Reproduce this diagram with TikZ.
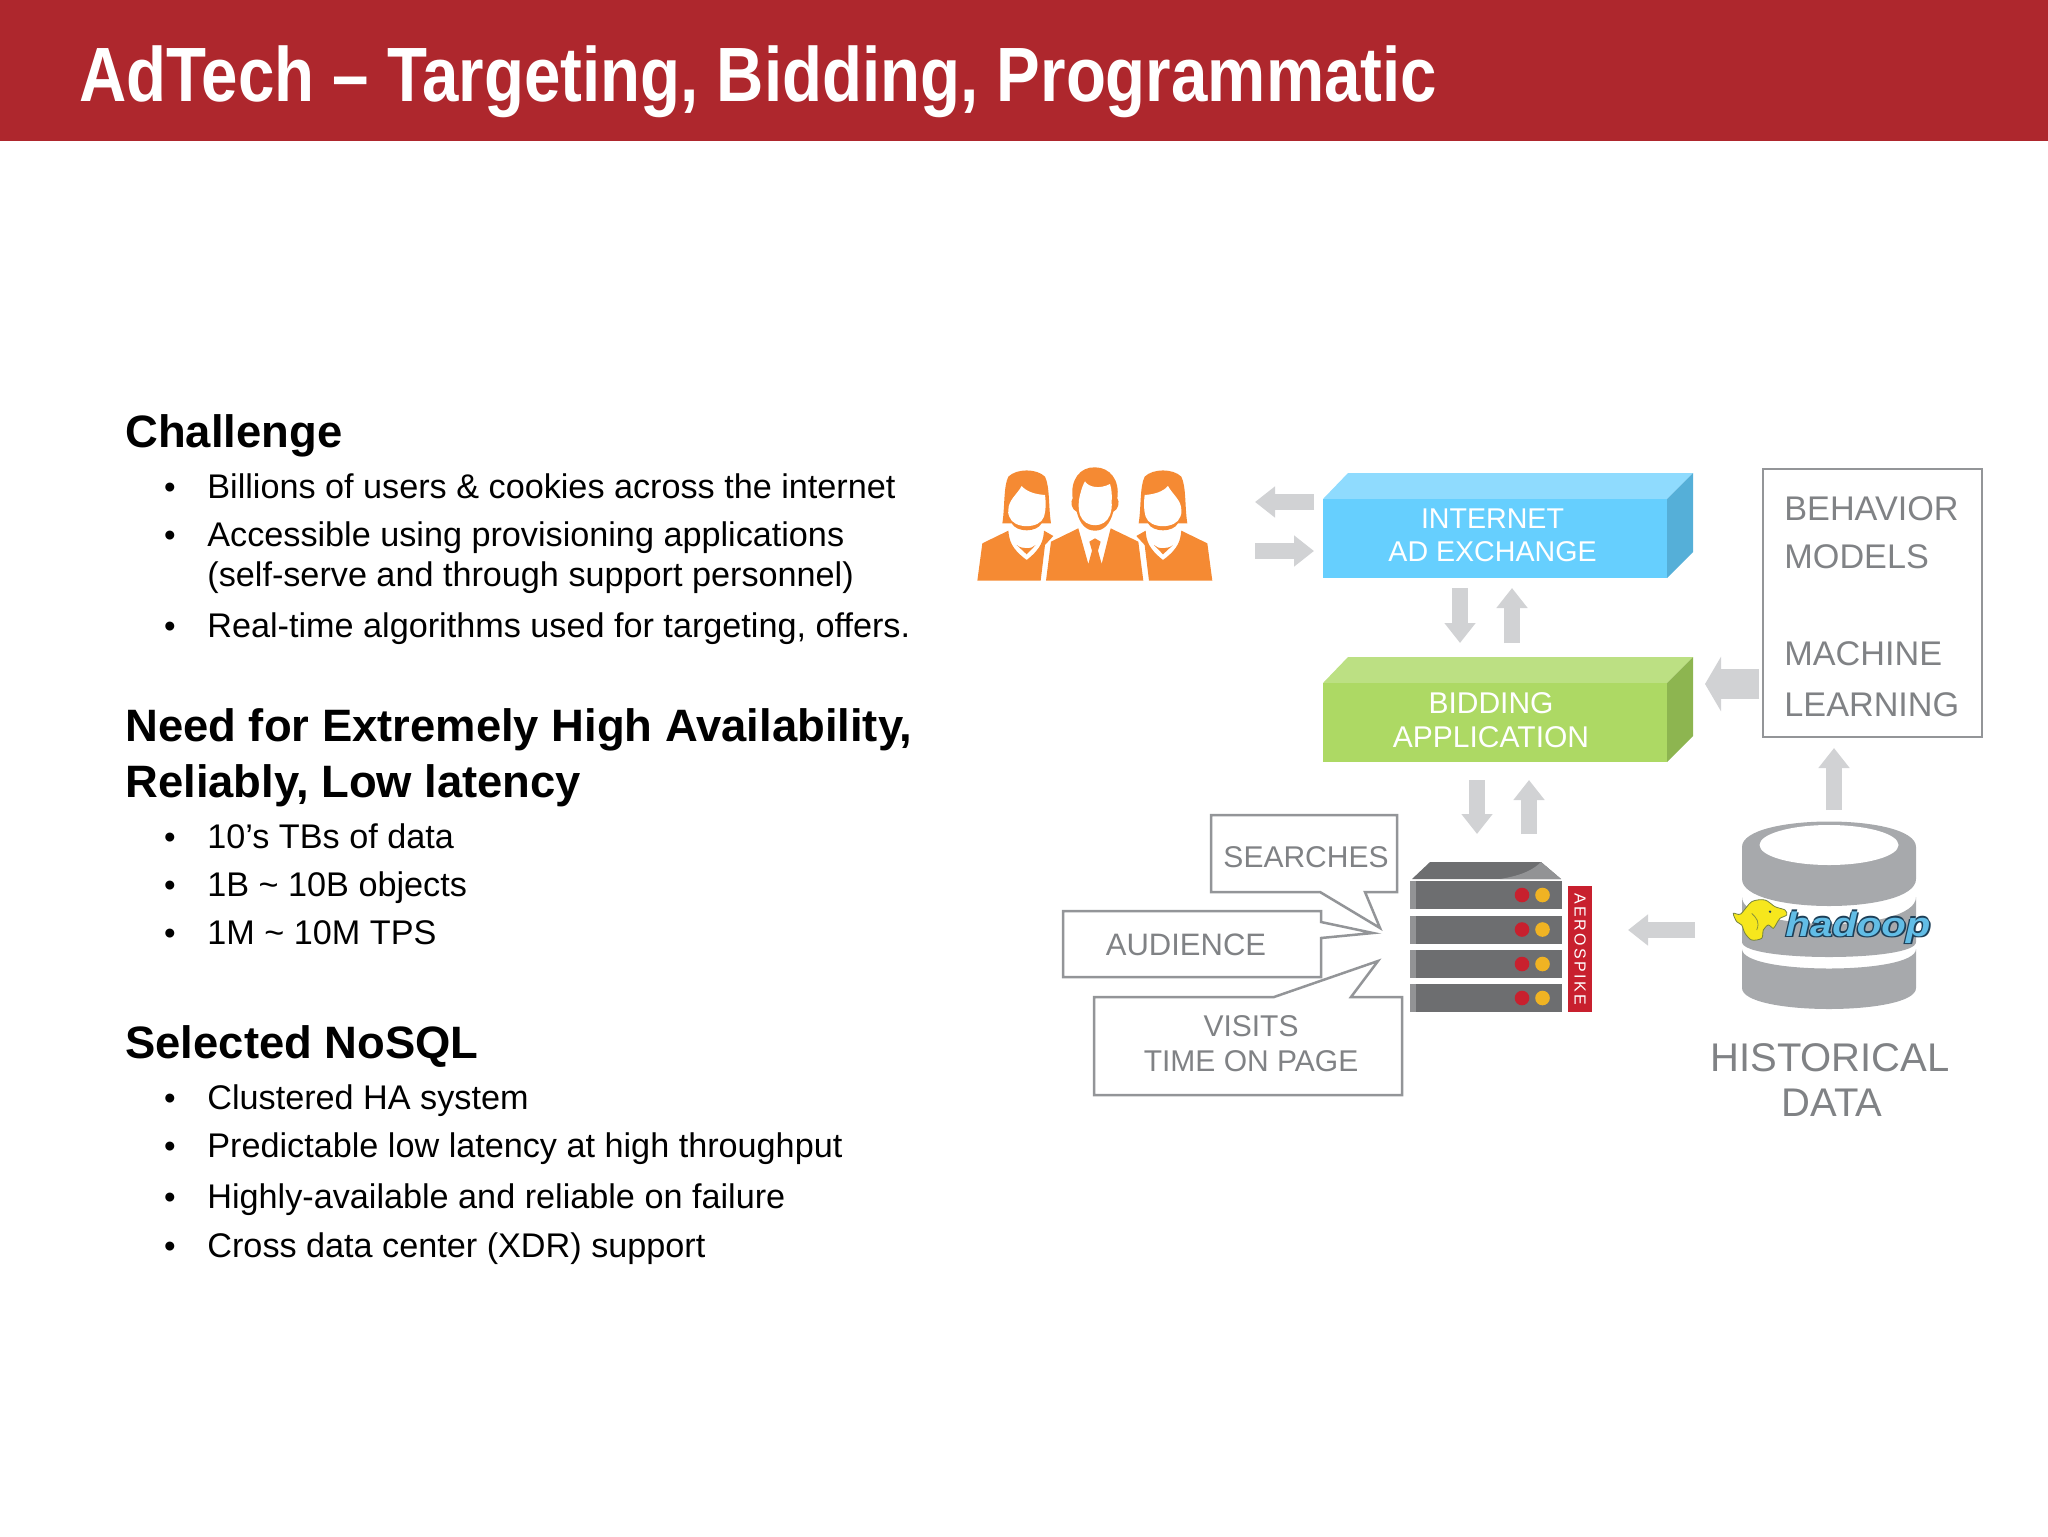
\documentclass[tikz,border=0pt]{standalone}
\usepackage{fontspec}
\setmainfont{Liberation Sans}
\usetikzlibrary{arrows.meta}
\definecolor{bandred}{HTML}{AE272D}
\definecolor{blockgray}{HTML}{D1D2D4}
\definecolor{labelgray}{HTML}{808285}
\definecolor{framegray}{HTML}{939598}
\definecolor{blueF}{HTML}{66CFFE}
\definecolor{blueT}{HTML}{8FDBFE}
\definecolor{blueS}{HTML}{55AFD8}
\definecolor{greenF}{HTML}{ADD964}
\definecolor{greenT}{HTML}{BCE083}
\definecolor{greenS}{HTML}{8DB550}
\definecolor{srv}{HTML}{6D6E70}
\definecolor{srvL}{HTML}{929395}
\definecolor{cyl}{HTML}{A7A9AC}
\definecolor{peach}{HTML}{F58A33}
\definecolor{aero}{HTML}{C8202E}
\definecolor{amber}{HTML}{F0B323}
\definecolor{hadblue}{HTML}{62BDE6}
\definecolor{haddark}{HTML}{1D3F57}
\definecolor{hadyel}{HTML}{F6E71D}
\newcommand{\fs}[1]{\fontsize{#1}{#1}\selectfont}
\newcommand{\hadooptxt}{\bfseries\itshape\fs{17}\rlap{\kern-.6pt\raisebox{-.8pt}{\color{haddark}hadoop}}\rlap{\kern.7pt\raisebox{-.8pt}{\color{haddark}hadoop}}\rlap{\raisebox{.6pt}{\color{haddark}hadoop}}{\color{hadblue}hadoop}}
\newcommand{\womanfig}{%
  \fill[peach] (97,190) .. controls (105,140) and (100,80) .. (115,50) .. controls (140,25) and (200,25) .. (225,50) .. controls (240,80) and (235,140) .. (243,190) -- (215,190) .. controls (200,218) and (140,218) .. (125,190) -- cycle;
  \fill[white] (115,150) .. controls (115,120) and (140,105) .. (155,78) .. controls (170,95) and (195,103) .. (225,105) .. controls (228,130) and (228,150) .. (222,170) .. controls (210,208) and (130,208) .. (118,170) .. controls (114,160) and (114,155) .. (115,150) -- cycle;
  \fill[peach] (22,362) -- (37,250) -- (115,212) .. controls (118,240) and (122,265) .. (170,300) .. controls (215,265) and (220,240) .. (222,212) -- (250,228) -- (225,255) -- (212,362) -- cycle;
  \fill[peach] (140,255) .. controls (155,268) and (185,268) .. (197,255) -- (170,283) -- cycle;
}
\tikzset{
  x=0.5pt,y=-0.5pt,
  block/.style={-{Triangle[length=10pt,width=15pt]},blockgray,line width=8pt},
  wideblock/.style={-{Triangle[length=8pt,width=27pt]},blockgray,line width=15pt},
  head/.style={anchor=base west,font=\bfseries\fs{22.7},text=black,inner sep=0pt},
  item/.style={anchor=base west,font=\fs{17.1},text=black,inner sep=0pt},
  bull/.style={anchor=base,font=\fs{16.5},text=black,inner sep=0pt},
  boxshape/.style={inner sep=0pt,minimum width=172pt,minimum height=39.5pt},
  boxlabel/.style={text=white,align=center,inner sep=0pt},
  graylabel/.style={anchor=base west,font=\fs{17.1},text=labelgray,inner sep=0pt},
  callout/.style={draw=framegray,line width=1.25pt,fill=white},
  calltext/.style={anchor=base,font=\fs{15},text=labelgray,inner sep=0pt},
  rack/.style={fill=srv,minimum width=76pt,minimum height=14pt,inner sep=0pt},
}
\begin{document}
\begin{tikzpicture}
\useasboundingbox (0,0) rectangle (2048,1536);
\fill[bandred] (0,0) rectangle (2048,141);
\node[anchor=base west,font=\bfseries\fs{38.5},text=white,inner sep=0pt,xscale=0.85] (title) at (79,102) {AdTech – Targeting, Bidding, Programmatic};

% left text
\node[head] (h1) at (125,447) {Challenge};
\node[bull] (b1) at (170,498) {•}; \node[item] (t1) at (207,498) {Billions of users \& cookies across the internet};
\node[bull] (b2) at (170,546) {•}; \node[item] (t2) at (207,546) {Accessible using provisioning applications};
\node[item] (t2b) at (207,586) {(self-serve and through support personnel)};
\node[bull] (b3) at (170,637) {•}; \node[item] (t3) at (207,637) {Real-time algorithms used for targeting, offers.};
\node[head] (h2) at (125,741) {Need for Extremely High Availability,};
\node[head] (h2b) at (125,797) {Reliably, Low latency};
\node[bull] (b4) at (170,848) {•}; \node[item] (t4) at (207,848) {10’s TBs of data};
\node[bull] (b5) at (170,896) {•}; \node[item] (t5) at (207,896) {1B \textasciitilde{} 10B objects};
\node[bull] (b6) at (170,944) {•}; \node[item] (t6) at (207,944) {1M \textasciitilde{} 10M TPS};
\node[head] (h3) at (125,1058) {Selected NoSQL};
\node[bull] (b7) at (170,1109) {•}; \node[item] (t7) at (207,1109) {Clustered HA system};
\node[bull] (b8) at (170,1157) {•}; \node[item] (t8) at (207,1157) {Predictable low latency at high throughput};
\node[bull] (b9) at (170,1208) {•}; \node[item] (t9) at (207,1208) {Highly-available and reliable on failure};
\node[bull] (b10) at (170,1257) {•}; \node[item] (t10) at (207,1257) {Cross data center (XDR) support};

% people
\begin{scope}[shift={(970,460)},scale=0.3333]
  \womanfig
  \begin{scope}[shift={(749,0)},xscale=-1]\womanfig\end{scope}
  \fill[peach] (308,115) .. controls (300,60) and (330,20) .. (375,22) .. controls (420,22) and (450,60) .. (442,115) .. controls (450,125) and (445,150) .. (430,155) .. controls (420,195) and (400,212) .. (375,212) .. controls (350,212) and (330,195) .. (320,155) .. controls (305,150) and (300,125) .. (308,115) -- cycle;
  \fill[white] (330,105) .. controls (335,85) and (340,72) .. (345,64) .. controls (355,82) and (390,88) .. (420,72) .. controls (426,90) and (426,110) .. (425,125) .. controls (426,140) and (425,150) .. (420,165) .. controls (405,206) and (345,206) .. (330,165) .. controls (325,150) and (324,125) .. (330,105) -- cycle;
  \fill[peach] (228,362) -- (243,245) -- (325,205) -- (355,312) -- (366,272) -- (358,245) -- (375,235) -- (392,245) -- (384,272) -- (395,312) -- (422,205) -- (505,245) -- (520,362) -- cycle;
\end{scope}

% internet box
\fill[blueT] (1323,499) -- (1348,473) -- (1693,473) -- (1667,499) -- cycle;
\fill[blueS] (1667,499) -- (1693,473) -- (1693,552) -- (1667,578) -- cycle;
\node[boxshape,fill=blueF] (adx) at (1495,538.5) {};
\node[boxlabel,font=\fs{14.3}] (adxlabel) at (1492.5,535.5) {INTERNET\\[2pt]AD EXCHANGE};
% bidding box
\fill[greenT] (1323,683) -- (1348,657) -- (1693,657) -- (1667,683) -- cycle;
\fill[greenS] (1667,683) -- (1693,657) -- (1693,736) -- (1667,762) -- cycle;
\node[boxshape,fill=greenF] (bid) at (1495,722.5) {};
\node[boxlabel,font=\fs{15}] (bidlabel) at (1491,720) {BIDDING\\[2pt]APPLICATION};

% block arrows
\coordinate (a1s) at (1314,502); \coordinate (a1e) at (1255,502);
\coordinate (a2s) at (1255,551); \coordinate (a2e) at (1314,551);
\coordinate (a3s) at (1460,588); \coordinate (a3e) at (1460,643);
\coordinate (a4s) at (1512,643); \coordinate (a4e) at (1512,588);
\coordinate (a5s) at (1477,780); \coordinate (a5e) at (1477,834);
\coordinate (a6s) at (1529,834); \coordinate (a6e) at (1529,780);
\coordinate (a7s) at (1759,684); \coordinate (a7e) at (1705,684);
\coordinate (a8s) at (1834,810); \coordinate (a8e) at (1834,748);
\coordinate (a9s) at (1695,930); \coordinate (a9e) at (1628,930);
\draw[block] (a1s) -- (a1e);
\draw[block] (a2s) -- (a2e);
\draw[block] (a3s) -- (a3e);
\draw[block] (a4s) -- (a4e);
\draw[block] (a5s) -- (a5e);
\draw[block] (a6s) -- (a6e);
\draw[wideblock] (a7s) -- (a7e);
\draw[block] (a8s) -- (a8e);
\draw[block] (a9s) -- (a9e);

% model box
\node[draw=framegray,line width=1.25pt,minimum width=109.5pt,minimum height=134pt,inner sep=0pt] (model) at (1872.5,603) {};
\node[graylabel] (m1) at (1784,520) {BEHAVIOR};
\node[graylabel] (m2) at (1784,568) {MODELS};
\node[graylabel] (m3) at (1784,665) {MACHINE};
\node[graylabel] (m4) at (1784,716) {LEARNING};

% callouts
\draw[callout] (1211,815) -- (1397,815) -- (1397,892) -- (1365,892) -- (1380,928) -- (1320,892) -- (1211,892) -- cycle;
\node[calltext] (searches) at (1306,867) {SEARCHES};
\draw[callout] (1063,911) -- (1321,911) -- (1321,922) -- (1373,933) -- (1321,938) -- (1321,977) -- (1063,977) -- cycle;
\node[calltext,font=\fs{15.5}] (audience) at (1186,955) {AUDIENCE};
\draw[callout] (1094,997) -- (1274,997) -- (1378,961) -- (1351,997) -- (1402,997) -- (1402,1095) -- (1094,1095) -- cycle;
\node[calltext] (visits) at (1251,1036) {VISITS};
\node[calltext] (timepage) at (1251,1071) {TIME ON PAGE};

% server
\fill[srv] (1412,879) -- (1430,862) -- (1541,862) -- (1561,879) -- cycle;
\fill[srvL] (1500,879) .. controls (1525,875) and (1535,868) .. (1541,862) -- (1561,879) -- cycle;
\foreach \n/\yy in {1/895,2/929.5,3/964,4/998}{
  \node[rack] (rack\n) at (1486,\yy) {};
  \fill[srvL] (1410,\yy-14) rectangle (1416,\yy+14);
  \fill[aero] (1522,\yy) circle[radius=7.3];
  \fill[amber] (1542.5,\yy) circle[radius=7.3];
}
\node[fill=aero,minimum width=12pt,minimum height=63pt,inner sep=0pt] (aerobar) at (1580,949) {};
\node[rotate=-90,font=\fs{8},text=white,inner sep=0pt] (aerotxt) at (1580,949) {A\kern1.2pt E\kern1.2pt R\kern1.2pt O\kern1.2pt S\kern1.2pt P\kern1.2pt I\kern1.2pt K\kern1.2pt E};

% cylinder
\fill[cyl] (1742,847) .. controls (1742,813) and (1916,813) .. (1916,847) -- (1916,879) .. controls (1916,915) and (1742,915) .. (1742,879) -- cycle;
\fill[white] (1829,845) ellipse[x radius=69.5,y radius=20];
\fill[cyl] (1742,897) .. controls (1742,933) and (1916,933) .. (1916,897) -- (1916,942) .. controls (1916,962) and (1742,962) .. (1742,942) -- cycle;
\fill[cyl] (1742,949) .. controls (1742,975) and (1916,975) .. (1916,949) -- (1916,988) .. controls (1916,1016) and (1742,1016) .. (1742,988) -- cycle;
% hadoop logo
\begin{scope}[shift={(1720,890)},scale=0.3333]
  \draw[draw=haddark!60!hadyel,line width=0.4pt,fill=hadyel] plot[smooth cycle] coordinates {(40,70) (62,72) (95,35) (135,30) (165,50) (195,60) (200,75) (180,85) (170,100) (160,115) (145,105) (130,120) (125,145) (95,150) (75,130) (65,105) (50,95)};
  \fill[haddark] (150,65) circle[radius=4];
  \draw[haddark!50!hadyel,line width=0.4pt] (95,70) .. controls (110,85) and (120,95) .. (110,120);
\end{scope}
\node[anchor=base west,inner sep=0pt,xscale=1.18] (hadoop) at (1785,936) {\hadooptxt};
\node[anchor=base,font=\fs{20},text=labelgray,inner sep=0pt] (hist) at (1830,1071) {HISTORICAL};
\node[anchor=base,font=\fs{20},text=labelgray,inner sep=0pt] (data) at (1832,1116) {DATA};
\end{tikzpicture}
\end{document}
